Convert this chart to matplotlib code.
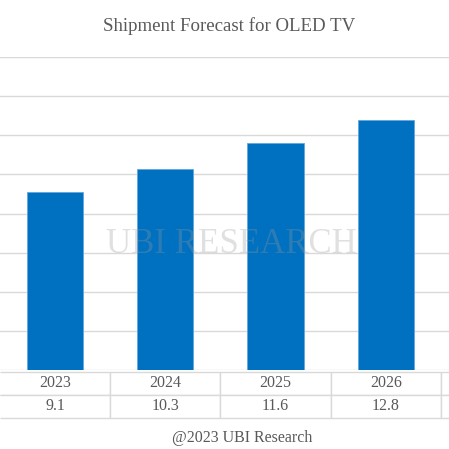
import matplotlib.pyplot as plt

years = ["2023", "2024", "2025", "2026"]
shipments = [9.1, 10.3, 11.6, 12.8]
value_labels = ["9.1", "10.3", "11.6", "12.8"]

TEXT = "#595959"
GRID = "#d9d9d9"
BLUE = "#0070c0"
plt.rcParams['font.family'] = ['Liberation Serif', 'DejaVu Serif']


def main():
    fig = plt.figure(figsize=(4.49, 4.49), dpi=100)
    # the plot is wider than the picture: a fifth column is cut off at the right
    ax = fig.add_axes([0, 79 / 449, 551 / 449, 313 / 449])
    x = list(range(len(years)))
    ax.bar(x, shipments, width=0.51, color=BLUE, edgecolor="#5fa8e0",
           linewidth=0.6, zorder=2)
    ax.set_xlim(-0.5, 4.5)
    ax.set_ylim(0, 16)
    ax.set_yticks(range(0, 17, 2))
    ax.yaxis.grid(True, color=GRID, linewidth=1.0, zorder=0)
    ax.set_xticks([])
    ax.tick_params(left=False, labelleft=False)
    for s in ax.spines.values():
        s.set_visible(False)

    # data table under the bars
    cells = [years + [""], value_labels + [""]]
    tbl = ax.table(cellText=cells, cellLoc="center",
                   bbox=[0, -0.153, 1, 0.147])
    tbl.auto_set_font_size(False)
    for (r, c), cell in tbl.get_celld().items():
        cell.set_edgecolor(GRID)
        cell.set_linewidth(1.0)
        cell.get_text().set_color(TEXT)
        cell.get_text().set_fontsize(11.5)
        if c == 0:
            cell.visible_edges = "BRT"

    # faint watermark
    fig.text(0.515, 0.455, "UBI RESEARCH", ha="center", va="center",
             fontsize=25, color="#9a9a9a", alpha=0.3, zorder=5)

    fig.text(0.511, 0.942, "Shipment Forecast for OLED TV", ha="center",
             va="center", fontsize=13.6, color=TEXT)
    fig.text(0.539, 0.0245, "@2023 UBI Research", ha="center", va="center",
             fontsize=11.5, color=TEXT)

    fig.savefig("out.png", dpi=100)


if __name__ == "__main__":
    main()
